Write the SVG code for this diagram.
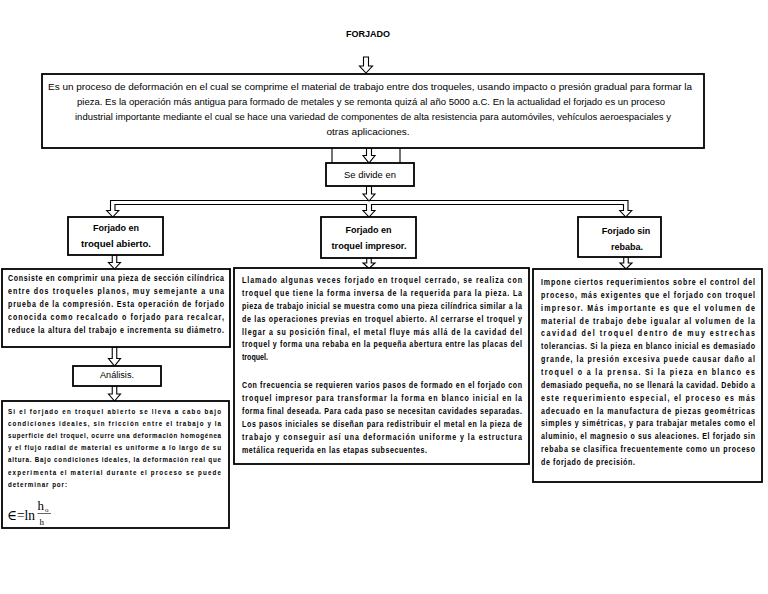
<svg xmlns="http://www.w3.org/2000/svg" width="768" height="594" viewBox="0 0 768 594">
<style>
.box{fill:#fff;stroke:#000;stroke-width:1.8}
.arw{fill:#fff;stroke:#000;stroke-width:1.1;stroke-linejoin:miter}
.ln{fill:none;stroke:#000;stroke-width:1.1}
text{font-family:"Liberation Sans","DejaVu Sans",sans-serif;fill:#000}
.t0{font-size:9.5px}
.t1{font-size:8.6px;font-weight:bold}
.t2{font-size:8.5px}
.t3{font-size:7.6px;font-weight:bold}
.hd{font-size:9px;font-weight:bold}
.c{text-anchor:middle}
.m{font-family:"Liberation Serif","DejaVu Serif",serif}
</style>
<rect width="768" height="594" fill="#fff"/>
<g id="title"><text class="hd c" x="368" y="37" font-size="10">FORJADO</text></g>

<g id="connectors">
<path class="arw" d="M363.5,57 H368.5 V66 H372.5 L366,73 L359.5,66 H363.5 Z"/>
<path class="ln" d="M332,148 V163 M400,148 V163"/>
<path class="arw" d="M366.5,148 V155.5 H363 L369,163 L375,155.5 H371.5 V148 Z"/>
<path class="arw" d="M628,200.5 H110.5 V210.5 H106.75 L112.75,217 L118.75,210.5 H115 V204.5 H366.5 V210.5 H363 L369,217 L375,210.5 H371.5 V204.5 H623.5 V210.5 H619.75 L625.75,217 L631.75,210.5 H628 Z"/>
<path class="arw" d="M366.5,186 V194 H363 L369,201 L375,194 H371.5 V186 Z"/>
<path class="arw" d="M112.25,255 V262.5 H108.5 L114.5,269 L120.5,262.5 H116.75 V255 Z"/>
<path class="arw" d="M366.75,258 V263 H363 L369,268.5 L375,263 H371.25 V258 Z"/>
<path class="arw" d="M623.75,257 V263 H620 L626,269 L632,263 H628.25 V257 Z"/>
<path class="arw" d="M112.25,347 V358.5 H108.5 L114.5,366 L120.5,358.5 H116.75 V347 Z"/>
<path class="arw" d="M112.25,386 V394 H108.5 L114.5,401 L120.5,394 H116.75 V386 Z"/>
</g>

<g id="n-def">
<rect class="box" x="42" y="74" width="662" height="74"/>
<text class="t0 c" x="370" y="89.5" textLength="644" lengthAdjust="spacingAndGlyphs">Es un proceso de deformación en el cual se comprime el material de trabajo entre dos troqueles, usando impacto o presión gradual para formar la</text>
<text class="t0 c" x="371" y="104.5" textLength="588" lengthAdjust="spacingAndGlyphs">pieza. Es la operación más antigua para formado de metales y se remonta quizá al año 5000 a.C. En la actualidad el forjado es un proceso</text>
<text class="t0 c" x="373" y="119.5" textLength="596" lengthAdjust="spacingAndGlyphs">industrial importante mediante el cual se hace una variedad de componentes de alta resistencia para automóviles, vehículos aeroespaciales y</text>
<text class="t0 c" x="368" y="134.5" textLength="83" lengthAdjust="spacingAndGlyphs">otras aplicaciones.</text>
</g>

<g id="n-divide">
<rect class="box" x="326" y="163" width="88" height="23"/>
<text class="t2 c" x="370" y="178" textLength="52" lengthAdjust="spacingAndGlyphs">Se divide en</text>
</g>

<g id="n-abierto">
<rect class="box" x="68" y="217" width="95" height="38"/>
<text class="hd c" x="116" y="230.5">Forjado en</text>
<text class="hd c" x="116" y="246.5" textLength="70" lengthAdjust="spacingAndGlyphs">troquel abierto.</text>
</g>

<g id="n-impresor">
<rect class="box" x="321" y="217" width="95" height="41"/>
<text class="hd c" x="368.5" y="233">Forjado en</text>
<text class="hd c" x="369" y="249" textLength="75" lengthAdjust="spacingAndGlyphs">troquel impresor.</text>
</g>

<g id="n-sin">
<rect class="box" x="578" y="217" width="83" height="40"/>
<text class="hd c" x="626" y="234">Forjado sin</text>
<text class="hd c" x="627" y="249.5">rebaba.</text>
</g>

<g id="n-abierto-desc">
<rect class="box" x="2" y="269" width="228" height="78"/>
<g transform="matrix(0.82,0,0,1,8,0)">
<text class="t1" x="0" y="281.5" textLength="263.4" lengthAdjust="spacing">Consiste en comprimir una pieza de sección cilíndrica</text>
<text class="t1" x="0" y="294.5" textLength="263.4" lengthAdjust="spacing">entre dos troqueles planos, muy semejante a una</text>
<text class="t1" x="0" y="307.5" textLength="263.4" lengthAdjust="spacing">prueba de la compresión. Esta operación de forjado</text>
<text class="t1" x="0" y="320.5" textLength="263.4" lengthAdjust="spacing">conocida como recalcado o forjado para recalcar,</text>
<text class="t1" x="0" y="333.5" textLength="263.4" lengthAdjust="spacing">reduce la altura del trabajo e incrementa su diámetro.</text>
</g>
</g>

<g id="n-analisis">
<rect class="box" x="73" y="366" width="88" height="20"/>
<text class="t2 c" x="117" y="378" textLength="34" lengthAdjust="spacingAndGlyphs">Análisis.</text>
</g>

<g id="n-analisis-desc">
<rect class="box" x="2" y="401" width="227" height="127"/>
<g transform="matrix(0.82,0,0,1,8,0)">
<text class="t3" x="0" y="413.7" textLength="259.8" lengthAdjust="spacing">Si el forjado en troquel abierto se lleva a cabo bajo</text>
<text class="t3" x="0" y="425.9" textLength="259.8" lengthAdjust="spacing">condiciones ideales, sin fricción entre el trabajo y la</text>
<text class="t3" x="0" y="438.1" textLength="259.8" lengthAdjust="spacing">superficie del troquel, ocurre una deformación homogénea</text>
<text class="t3" x="0" y="450.3" textLength="259.8" lengthAdjust="spacing">y el flujo radial de material es uniforme a lo largo de su</text>
<text class="t3" x="0" y="462.5" textLength="259.8" lengthAdjust="spacing">altura. Bajo condiciones ideales, la deformación real que</text>
<text class="t3" x="0" y="474.7" textLength="259.8" lengthAdjust="spacing">experimenta el material durante el proceso se puede</text>
<text class="t3" x="0" y="486.9" textLength="72" lengthAdjust="spacing">determinar por:</text>
</g>
<text class="m" x="7" y="520" font-size="14" textLength="28" lengthAdjust="spacingAndGlyphs">∈=ln</text>
<text class="m" x="37.5" y="510" font-size="13">h</text>
<text class="m" x="45" y="511.5" font-size="7">o</text>
<line x1="37.5" y1="513.5" x2="51" y2="513.5" stroke="#000" stroke-width="0.6"/>
<text class="m" x="39.5" y="525" font-size="9">h</text>
</g>

<g id="n-impresor-desc">
<rect class="box" x="234" y="268" width="295" height="196"/>
<g transform="matrix(0.82,0,0,1,242,0)">
<text class="t1" x="0" y="283" textLength="341.5" lengthAdjust="spacing">Llamado algunas veces forjado en troquel cerrado, se realiza con</text>
<text class="t1" x="0" y="296" textLength="341.5" lengthAdjust="spacing">troquel que tiene la forma inversa de la requerida para la pieza. La</text>
<text class="t1" x="0" y="309" textLength="341.5" lengthAdjust="spacing">pieza de trabajo inicial se muestra como una pieza cilíndrica similar a la</text>
<text class="t1" x="0" y="322" textLength="341.5" lengthAdjust="spacing">de las operaciones previas en troquel abierto. Al cerrarse el troquel y</text>
<text class="t1" x="0" y="335" textLength="341.5" lengthAdjust="spacing">llegar a su posición final, el metal fluye más allá de la cavidad del</text>
<text class="t1" x="0" y="347.5" textLength="341.5" lengthAdjust="spacing">troquel y forma una rebaba en la pequeña abertura entre las placas del</text>
<text class="t1" x="0" y="360">troquel.</text>
<text class="t1" x="0" y="388" textLength="341.5" lengthAdjust="spacing">Con frecuencia se requieren varios pasos de formado en el forjado con</text>
<text class="t1" x="0" y="401" textLength="341.5" lengthAdjust="spacing">troquel impresor para transformar la forma en blanco inicial en la</text>
<text class="t1" x="0" y="414" textLength="341.5" lengthAdjust="spacing">forma final deseada. Para cada paso se necesitan cavidades separadas.</text>
<text class="t1" x="0" y="427" textLength="341.5" lengthAdjust="spacing">Los pasos iniciales se diseñan para redistribuir el metal en la pieza de</text>
<text class="t1" x="0" y="440" textLength="341.5" lengthAdjust="spacing">trabajo y conseguir así una deformación uniforme y la estructura</text>
<text class="t1" x="0" y="453" textLength="225.6" lengthAdjust="spacing">metálica requerida en las etapas subsecuentes.</text>
</g>
</g>

<g id="n-sin-desc">
<rect class="box" x="533" y="269" width="229" height="213"/>
<g transform="matrix(0.82,0,0,1,541,0)">
<text class="t1" x="0" y="285" textLength="261" lengthAdjust="spacing">Impone ciertos requerimientos sobre el control del</text>
<text class="t1" x="0" y="297.9" textLength="261" lengthAdjust="spacing">proceso, más exigentes que el forjado con troquel</text>
<text class="t1" x="0" y="310.7" textLength="261" lengthAdjust="spacing">impresor. Más importante es que el volumen de</text>
<text class="t1" x="0" y="323.6" textLength="261" lengthAdjust="spacing">material de trabajo debe igualar al volumen de la</text>
<text class="t1" x="0" y="336.4" textLength="261" lengthAdjust="spacing">cavidad del troquel dentro de muy  estrechas</text>
<text class="t1" x="0" y="349.3" textLength="261" lengthAdjust="spacing">tolerancias. Si la pieza en blanco inicial es demasiado</text>
<text class="t1" x="0" y="362.1" textLength="261" lengthAdjust="spacing">grande, la presión excesiva puede causar daño al</text>
<text class="t1" x="0" y="375" textLength="261" lengthAdjust="spacing">troquel o a la prensa. Si la pieza en blanco es</text>
<text class="t1" x="0" y="387.9" textLength="261" lengthAdjust="spacing">demasiado pequeña, no se llenará la cavidad. Debido a</text>
<text class="t1" x="0" y="400.7" textLength="261" lengthAdjust="spacing">este requerimiento especial, el proceso es más</text>
<text class="t1" x="0" y="413.6" textLength="261" lengthAdjust="spacing">adecuado en la manufactura de piezas geométricas</text>
<text class="t1" x="0" y="426.4" textLength="261" lengthAdjust="spacing">simples y simétricas, y para trabajar metales como el</text>
<text class="t1" x="0" y="439.3" textLength="261" lengthAdjust="spacing">aluminio, el magnesio o sus aleaciones. El forjado sin</text>
<text class="t1" x="0" y="452.1" textLength="261" lengthAdjust="spacing">rebaba se clasifica frecuentemente como un proceso</text>
<text class="t1" x="0" y="465" textLength="114.6" lengthAdjust="spacing">de forjado de precisión.</text>
</g>
</g>
</svg>
